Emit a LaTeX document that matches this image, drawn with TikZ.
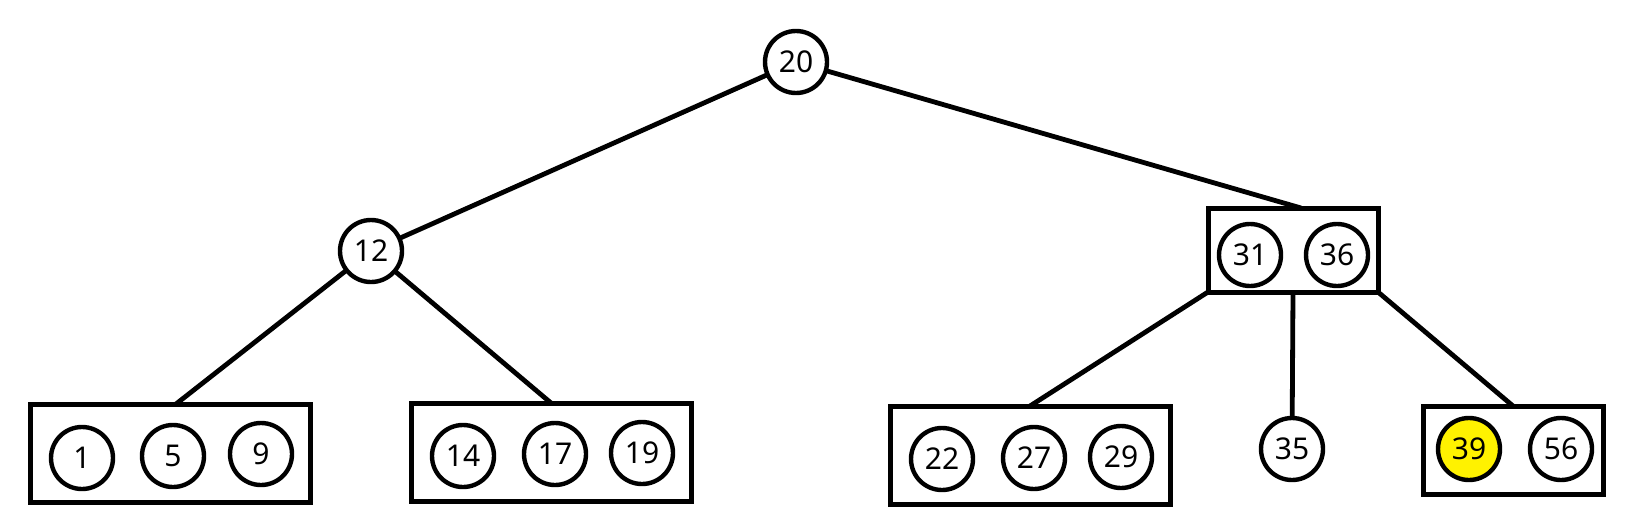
\documentclass[tikz,border=0pt]{standalone}
\usepackage{fontspec}
\setmainfont{Noto Sans}
\usepackage{tikz}

\begin{document}
\begin{tikzpicture}[x=0.5pt,y=-0.5pt]
  \tikzset{KeyStyle/.style = {
    shape         = circle,
    draw          = black,
    fill          = white,
    line width    = 2.2pt,
    text          = black,
    inner sep     = 0pt,
    outer sep     = 0pt,
    minimum size  = 31pt,
    font          = \fontsize{15}{16}\selectfont
    }
  }
  \tikzset{PageStyle/.style = {
    shape         = rectangle,
    draw          = black,
    line width    = 2.5pt,
    inner sep     = 0pt,
    outer sep     = 0pt,
    minimum width = 140pt,
    minimum height= 49pt
    }
  }
  \tikzset{EdgeStyle/.style = {
    draw          = black,
    line width    = 2.4pt
    }
  }
  \useasboundingbox (0,0) rectangle (1648,530);

	\node[PageStyle](B2) at (1293, 250) [minimum width=85pt, minimum height=42pt] {};
	\node[PageStyle](C1) at (170, 453) {};
	\node[PageStyle](C2) at (551, 452) {};
	\node[PageStyle](C3) at (1030, 455) {};
	\node[PageStyle](C5) at (1513, 450) [minimum width=90pt, minimum height=44pt] {};
	\node[KeyStyle](A1) at (796, 62) {20};
	\node[KeyStyle](B1) at (371, 251) {12};
	\node[KeyStyle](B2a) at (1250, 255) {31};
	\node[KeyStyle](B2b) at (1337, 255) {36};
	\node[KeyStyle](C1a) at (82, 458) {1};
	\node[KeyStyle](C1b) at (173, 456) {5};
	\node[KeyStyle](C1c) at (261, 454) {9};
	\node[KeyStyle](C2a) at (463, 456) {14};
	\node[KeyStyle](C2b) at (555, 454) {17};
	\node[KeyStyle](C2c) at (642, 453) {19};
	\node[KeyStyle](C3a) at (942, 459) {22};
	\node[KeyStyle](C3b) at (1034, 458) {27};
	\node[KeyStyle](C3c) at (1121, 457) {29};
	\node[KeyStyle](C4) at (1292, 449) {35};
	\node[KeyStyle, fill=yellow](C5a) at (1469, 449) {39};
	\node[KeyStyle](C5b) at (1561, 449) {56};
	\draw[EdgeStyle](A1) -- (B1);
	\draw[EdgeStyle](A1) -- ([xshift=4pt]B2.north);
	\draw[EdgeStyle](B1) -- ([xshift=3pt]C1.north);
	\draw[EdgeStyle](B1) -- (C2.north);
	\draw[EdgeStyle](B2.south west) -- (C3.north);
	\draw[EdgeStyle](B2.south) -- (C4);
	\draw[EdgeStyle](B2.south east) -- (C5.north);

  \end{tikzpicture}
\end{document}
